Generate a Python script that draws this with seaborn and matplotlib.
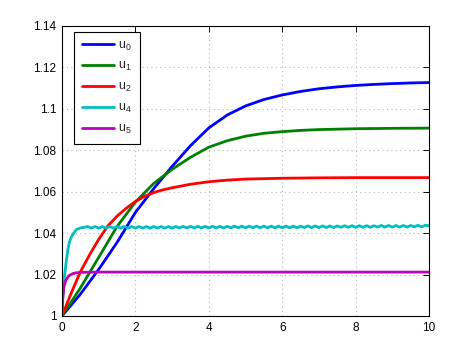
import numpy as np
import pandas as pd
import seaborn as sns
from matplotlib import pyplot as plt

# values
u0_x = [0, 0.5, 1.0, 1.5, 2.0, 2.5, 3.0, 3.5, 4.0, 4.5, 5.0, 5.5, 6.0, 6.5, 7.0, 7.5, 8.0, 8.5, 9.0, 9.5, 10.0]
u0_y = [1.0000, 1.0105, 1.0225, 1.0355, 1.0500, 1.0615, 1.0722, 1.0822, 1.0908, 1.0970, 1.1014,
        1.1045, 1.1067, 1.1084, 1.1097, 1.1106, 1.1113, 1.1118, 1.1122, 1.1125, 1.1127]

u1_x = [0, 0.5, 1.0, 1.5, 2.0, 2.5, 3.0, 3.5, 4.0, 4.5, 5.0, 5.5, 6.0, 6.5, 7.0, 8.0, 9.0, 10.0]
u1_y = [1.0000, 1.0135, 1.0283, 1.0432, 1.0550, 1.0640, 1.0708, 1.0766, 1.0815, 1.0846, 1.0868,
        1.0882, 1.0890, 1.0896, 1.0900, 1.0904, 1.0906, 1.0907]

u2_x = [0, 0.25, 0.5, 0.75, 1.0, 1.25, 1.5, 1.75, 2.0, 2.25, 2.5, 2.75, 3.0, 3.5, 4.0, 4.5, 5.0, 6.0, 7.0, 8.0, 10.0]
u2_y = [1.0000, 1.0110, 1.0213, 1.0295, 1.0370, 1.0435, 1.0482, 1.0520, 1.0553, 1.0578, 1.0596,
        1.0609, 1.0619, 1.0636, 1.0648, 1.0656, 1.0661, 1.0665, 1.0667, 1.0668, 1.0668]

# u4 rises fast, then ripples slightly
u4_x = [0, 0.02, 0.05, 0.08, 0.12, 0.16, 0.2, 0.25, 0.3, 0.35, 0.4, 0.5] + \
       [round(0.6 + 0.1 * i, 1) for i in range(95)]
u4_y = [1.0000, 1.0090, 1.0160, 1.0210, 1.0270, 1.0320, 1.0355, 1.0380, 1.0395, 1.0408, 1.0418, 1.0425,
        1.0428, 1.0432, 1.0424, 1.0432, 1.0424, 1.0432, 1.0424, 1.0432, 1.0424, 1.0432,
        1.0424, 1.0432, 1.0424, 1.0432, 1.0424, 1.0432, 1.0424, 1.0432, 1.0424, 1.0432,
        1.0424, 1.0432, 1.0424, 1.0432, 1.0424, 1.0432, 1.0425, 1.0433, 1.0425, 1.0433,
        1.0425, 1.0433, 1.0425, 1.0433, 1.0425, 1.0433, 1.0425, 1.0433, 1.0425, 1.0433,
        1.0426, 1.0434, 1.0426, 1.0434, 1.0426, 1.0434, 1.0426, 1.0434, 1.0426, 1.0434,
        1.0426, 1.0434, 1.0426, 1.0434, 1.0426, 1.0434, 1.0426, 1.0434, 1.0426, 1.0434,
        1.0427, 1.0435, 1.0427, 1.0435, 1.0427, 1.0435, 1.0427, 1.0435, 1.0427, 1.0435,
        1.0428, 1.0436, 1.0428, 1.0436, 1.0428, 1.0436, 1.0428, 1.0436, 1.0428, 1.0436,
        1.0429, 1.0437, 1.0429, 1.0437, 1.0429, 1.0437, 1.0429, 1.0437, 1.0429, 1.0437,
        1.0430, 1.0438, 1.0430, 1.0438, 1.0436]

u5_x = [0, 0.02, 0.05, 0.1, 0.15, 0.2, 0.3, 0.4, 0.6, 1.0, 10.0]
u5_y = [1.0000, 1.0080, 1.0140, 1.0170, 1.0185, 1.0196, 1.0205, 1.0209, 1.0211, 1.0212, 1.0212]

labels = ['u$_0$', 'u$_1$', 'u$_2$', 'u$_4$', 'u$_5$']
colors = ['#0000ff', '#008000', '#ff0000', '#00bfbf', '#bf00bf']

x_ticks = [0, 2, 4, 6, 8, 10]
y_ticks = [1, 1.02, 1.04, 1.06, 1.08, 1.1, 1.12, 1.14]
y_ticklabels = ['1', '1.02', '1.04', '1.06', '1.08', '1.1', '1.12', '1.14']

sns.set_style('white')
plt.rcParams['font.family'] = ['Liberation Sans', 'DejaVu Sans']
plt.rcParams['mathtext.fontset'] = 'custom'
plt.rcParams['mathtext.rm'] = 'Liberation Sans'
plt.rcParams['mathtext.it'] = 'Liberation Sans'

fig = plt.figure(figsize=(4.74, 3.56), dpi=100)
ax = fig.add_axes([62 / 474, 40 / 356, 367 / 474, 290 / 356])

series = [(u0_x, u0_y), (u1_x, u1_y), (u2_x, u2_y), (u4_x, u4_y), (u5_x, u5_y)]
for (xs, ys), lab, col in zip(series, labels, colors):
    sns.lineplot(x=xs, y=ys, ax=ax, color=col, linewidth=2, label=lab, sort=False, estimator=None)

ax.set_xlim(0, 10)
ax.set_ylim(1, 1.14)
ax.set_xticks(x_ticks)
ax.set_xticklabels([str(t) for t in x_ticks])
ax.set_yticks(y_ticks)
ax.set_yticklabels(y_ticklabels)
ax.grid(True, linestyle=(0, (1, 3)), color='#b4b4b4', linewidth=0.8)
ax.set_axisbelow(True)

for sp in ax.spines.values():
    sp.set_visible(True)
    sp.set_color('black')
    sp.set_linewidth(0.8)
ax.tick_params(direction='in', length=4, width=0.7, top=True, right=True,
               labelsize=8.5, colors='black', pad=4)

leg = ax.legend(loc='upper left', bbox_to_anchor=(12 / 367, 1 - 6 / 290), borderaxespad=0,
                fancybox=False, framealpha=1, edgecolor='black', fontsize=9,
                handlelength=2.6, labelspacing=0.62, borderpad=0.6, handletextpad=0.35)
leg.get_frame().set_linewidth(0.8)

plt.savefig('out.png', dpi=100)
